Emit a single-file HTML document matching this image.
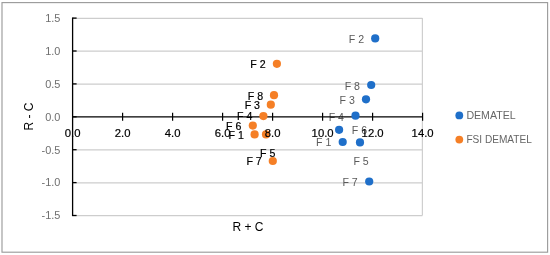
<!DOCTYPE html>
<html><head><meta charset="utf-8"><title>chart</title>
<style>
html,body{margin:0;padding:0;background:#fff;}
body{width:550px;height:255px;overflow:hidden;}
svg{display:block;font-family:"Liberation Sans",sans-serif;}
</style></head><body>
<svg width="550" height="255" viewBox="0 0 550 255">
<rect x="0" y="0" width="550" height="255" fill="#fff"/>
<rect x="2.0" y="2.6" width="545.6" height="249.6" fill="#fff" stroke="#9c9c9c" stroke-width="1.15"/>

<line x1="72.6" y1="18.3" x2="422.4" y2="18.3" stroke="#cdcdcd" stroke-width="1.2"/>
<line x1="72.6" y1="51.2" x2="422.4" y2="51.2" stroke="#cdcdcd" stroke-width="1.2"/>
<line x1="72.6" y1="84.1" x2="422.4" y2="84.1" stroke="#cdcdcd" stroke-width="1.2"/>
<line x1="72.6" y1="149.9" x2="422.4" y2="149.9" stroke="#cdcdcd" stroke-width="1.2"/>
<line x1="72.6" y1="182.8" x2="422.4" y2="182.8" stroke="#cdcdcd" stroke-width="1.2"/>
<line x1="72.6" y1="215.7" x2="422.4" y2="215.7" stroke="#cdcdcd" stroke-width="1.2"/>
<line x1="422.4" y1="18.1" x2="422.4" y2="215.5" stroke="#cfcfcf" stroke-width="1.2"/>
<text x="348.8" y="42.7" font-size="10.6" fill="#5a5a5a">F 2</text>
<text x="344.7" y="89.6" font-size="10.6" fill="#5a5a5a">F 8</text>
<text x="339.6" y="103.9" font-size="10.6" fill="#5a5a5a">F 3</text>
<text x="328.7" y="120.5" font-size="10.6" fill="#5a5a5a">F 4</text>
<text x="351.8" y="134.1" font-size="10.6" fill="#5a5a5a">F 6</text>
<text x="316" y="146.1" font-size="10.6" fill="#5a5a5a">F 1</text>
<text x="353.4" y="164.5" font-size="10.6" fill="#5a5a5a">F 5</text>
<text x="342.4" y="185.9" font-size="10.6" fill="#5a5a5a">F 7</text>
<line x1="72.6" y1="17.5" x2="72.6" y2="216.1" stroke="#000" stroke-width="1.3"/>
<line x1="72.6" y1="116.8" x2="422.9" y2="116.8" stroke="#000" stroke-width="1.15"/>
<line x1="72.6" y1="18.1" x2="76.6" y2="18.1" stroke="#000" stroke-width="1.3"/>
<text x="60.4" y="21.9" font-size="10.9" fill="#6e6e6e" text-anchor="end">1.5</text>
<line x1="72.6" y1="51.0" x2="76.6" y2="51.0" stroke="#000" stroke-width="1.3"/>
<text x="60.4" y="54.8" font-size="10.9" fill="#6e6e6e" text-anchor="end">1.0</text>
<line x1="72.6" y1="83.9" x2="76.6" y2="83.9" stroke="#000" stroke-width="1.3"/>
<text x="60.4" y="87.7" font-size="10.9" fill="#6e6e6e" text-anchor="end">0.5</text>
<line x1="72.6" y1="116.8" x2="76.6" y2="116.8" stroke="#000" stroke-width="1.3"/>
<text x="60.4" y="120.6" font-size="10.9" fill="#6e6e6e" text-anchor="end">0.0</text>
<line x1="72.6" y1="149.7" x2="76.6" y2="149.7" stroke="#000" stroke-width="1.3"/>
<text x="60.4" y="153.5" font-size="10.9" fill="#6e6e6e" text-anchor="end">-0.5</text>
<line x1="72.6" y1="182.6" x2="76.6" y2="182.6" stroke="#000" stroke-width="1.3"/>
<text x="60.4" y="186.4" font-size="10.9" fill="#6e6e6e" text-anchor="end">-1.0</text>
<line x1="72.6" y1="215.5" x2="76.6" y2="215.5" stroke="#000" stroke-width="1.3"/>
<text x="60.4" y="219.3" font-size="10.9" fill="#6e6e6e" text-anchor="end">-1.5</text>
<line x1="122.6" y1="112.8" x2="122.6" y2="120.8" stroke="#000" stroke-width="1.2"/>
<line x1="172.6" y1="112.8" x2="172.6" y2="120.8" stroke="#000" stroke-width="1.2"/>
<line x1="222.6" y1="112.8" x2="222.6" y2="120.8" stroke="#000" stroke-width="1.2"/>
<line x1="272.6" y1="112.8" x2="272.6" y2="120.8" stroke="#000" stroke-width="1.2"/>
<line x1="322.6" y1="112.8" x2="322.6" y2="120.8" stroke="#000" stroke-width="1.2"/>
<line x1="372.6" y1="112.8" x2="372.6" y2="120.8" stroke="#000" stroke-width="1.2"/>
<line x1="422.6" y1="112.8" x2="422.6" y2="120.8" stroke="#000" stroke-width="1.2"/>
<text x="250.3" y="67.9" font-size="10.6" fill="#000" stroke="#000" stroke-width="0.2">F 2</text>
<text x="247.8" y="99.7" font-size="10.6" fill="#000" stroke="#000" stroke-width="0.2">F 8</text>
<text x="244.7" y="109.2" font-size="10.6" fill="#000" stroke="#000" stroke-width="0.2">F 3</text>
<text x="237" y="120.2" font-size="10.6" fill="#000" stroke="#000" stroke-width="0.2">F 4</text>
<text x="226" y="129.9" font-size="10.6" fill="#000" stroke="#000" stroke-width="0.2">F 6</text>
<text x="228.6" y="138.7" font-size="10.6" fill="#000" stroke="#000" stroke-width="0.2">F 1</text>
<text x="260" y="156.5" font-size="10.6" fill="#000" stroke="#000" stroke-width="0.2">F 5</text>
<text x="246.4" y="165.3" font-size="10.6" fill="#000" stroke="#000" stroke-width="0.2">F 7</text>
<circle cx="375.2" cy="38.4" r="4.1" fill="#1F6FC9"/>
<circle cx="371.2" cy="85.0" r="4.1" fill="#1F6FC9"/>
<circle cx="366" cy="99.3" r="4.1" fill="#1F6FC9"/>
<circle cx="355.5" cy="115.7" r="4.1" fill="#1F6FC9"/>
<circle cx="339.1" cy="129.8" r="4.1" fill="#1F6FC9"/>
<circle cx="342.7" cy="142.0" r="4.1" fill="#1F6FC9"/>
<circle cx="360" cy="142.4" r="4.1" fill="#1F6FC9"/>
<circle cx="369.2" cy="181.5" r="4.1" fill="#1F6FC9"/>
<circle cx="276.9" cy="63.8" r="4.1" fill="#F57F26"/>
<circle cx="274" cy="95.2" r="4.1" fill="#F57F26"/>
<circle cx="270.8" cy="104.7" r="4.1" fill="#F57F26"/>
<circle cx="263.4" cy="116.1" r="4.1" fill="#F57F26"/>
<circle cx="252.8" cy="125.6" r="4.1" fill="#F57F26"/>
<circle cx="254.6" cy="134.4" r="4.1" fill="#F57F26"/>
<circle cx="266" cy="134.4" r="4.1" fill="#F57F26"/>
<circle cx="272.8" cy="161.0" r="4.1" fill="#F57F26"/>
<text x="72.6" y="137.3" font-size="11.3" fill="#000" stroke="#000" stroke-width="0.2" text-anchor="middle">0.0</text>
<text x="122.6" y="137.3" font-size="11.3" fill="#000" stroke="#000" stroke-width="0.2" text-anchor="middle">2.0</text>
<text x="172.6" y="137.3" font-size="11.3" fill="#000" stroke="#000" stroke-width="0.2" text-anchor="middle">4.0</text>
<text x="222.6" y="137.3" font-size="11.3" fill="#000" stroke="#000" stroke-width="0.2" text-anchor="middle">6.0</text>
<text x="272.6" y="137.3" font-size="11.3" fill="#000" stroke="#000" stroke-width="0.2" text-anchor="middle">8.0</text>
<text x="322.6" y="137.3" font-size="11.3" fill="#000" stroke="#000" stroke-width="0.2" text-anchor="middle">10.0</text>
<text x="372.6" y="137.3" font-size="11.3" fill="#000" stroke="#000" stroke-width="0.2" text-anchor="middle">12.0</text>
<text x="422.6" y="137.3" font-size="11.3" fill="#000" stroke="#000" stroke-width="0.2" text-anchor="middle">14.0</text>
<text x="248" y="231.4" font-size="12" fill="#000" text-anchor="middle">R + C</text>
<text transform="translate(33,116.5) rotate(-90)" font-size="12" fill="#000" text-anchor="middle">R - C</text>
<circle cx="459.3" cy="115.4" r="3.9" fill="#1F6FC9"/>
<text x="466.4" y="119" font-size="10.6" fill="#666">DEMATEL</text>
<circle cx="459.3" cy="139.6" r="3.9" fill="#F57F26"/>
<text x="466.4" y="143.2" font-size="10.1" fill="#666">FSI DEMATEL</text>
</svg></body></html>
